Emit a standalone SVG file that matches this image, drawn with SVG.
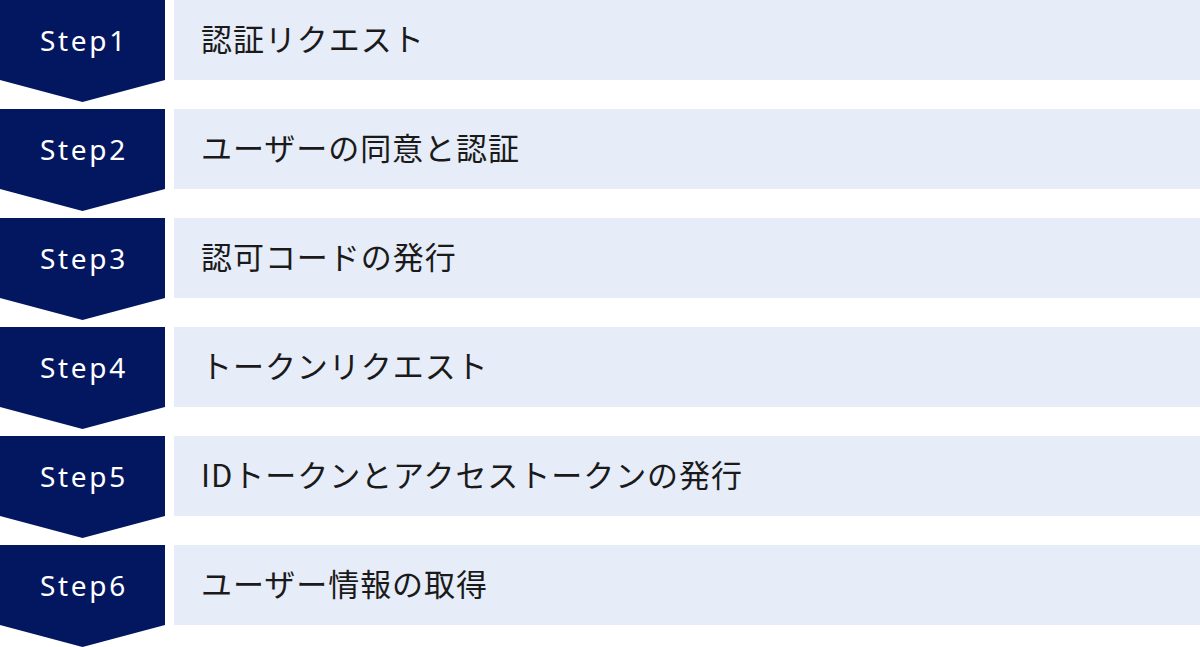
<svg xmlns="http://www.w3.org/2000/svg" width="1200" height="647" viewBox="0 0 1200 647">
<style>
.step{fill:#031761}
.box{fill:#e6ecf8}
.st{font-family:"Noto Sans","Liberation Sans",sans-serif;font-size:28px;fill:#ffffff;text-anchor:middle;letter-spacing:2.7px}
.lb{font-family:"Noto Sans CJK JP","Noto Sans",sans-serif;font-size:31px;fill:#1a1a1a;letter-spacing:0.95px}
</style>
<defs>
<path id="chev" d="M0 0H165V80L82.5 102L0 80Z"/>
</defs>
<g id="step1" transform="translate(0,0)">
<use href="#chev" class="step"/><rect class="box" x="174" y="0" width="1026" height="80"/>
<text class="st" x="84" y="51">Step1</text><text class="lb" x="201" y="51">認証リクエスト</text>
</g>
<g id="step2" transform="translate(0,109)">
<use href="#chev" class="step"/><rect class="box" x="174" y="0" width="1026" height="80"/>
<text class="st" x="84" y="51">Step2</text><text class="lb" x="201" y="51">ユーザーの同意と認証</text>
</g>
<g id="step3" transform="translate(0,218)">
<use href="#chev" class="step"/><rect class="box" x="174" y="0" width="1026" height="80"/>
<text class="st" x="84" y="51">Step3</text><text class="lb" x="201" y="51">認可コードの発行</text>
</g>
<g id="step4" transform="translate(0,327)">
<use href="#chev" class="step"/><rect class="box" x="174" y="0" width="1026" height="80"/>
<text class="st" x="84" y="51">Step4</text><text class="lb" x="201" y="51">トークンリクエスト</text>
</g>
<g id="step5" transform="translate(0,436)">
<use href="#chev" class="step"/><rect class="box" x="174" y="0" width="1026" height="80"/>
<text class="st" x="84" y="51">Step5</text><text class="lb" x="201" y="51">IDトークンとアクセストークンの発行</text>
</g>
<g id="step6" transform="translate(0,545)">
<use href="#chev" class="step"/><rect class="box" x="174" y="0" width="1026" height="80"/>
<text class="st" x="84" y="51">Step6</text><text class="lb" x="201" y="51">ユーザー情報の取得</text>
</g>
<g id="connectors"></g>
</svg>
